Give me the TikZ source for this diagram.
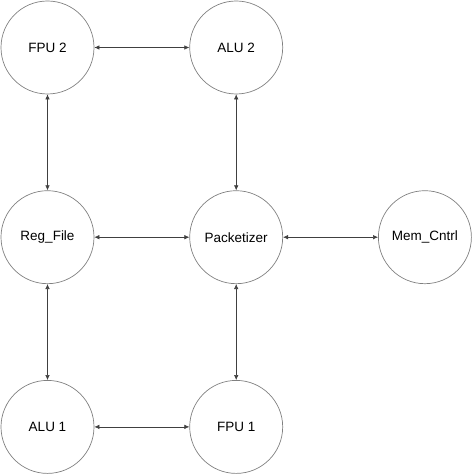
\documentclass[tikz,border=0pt]{standalone}
\usepackage{fontspec}
\setmainfont{Liberation Sans}
\usetikzlibrary{arrows.meta,positioning}
\definecolor{RingClr}{rgb}{0.5,0.5,0.5}
\definecolor{LinkClr}{rgb}{0.25,0.25,0.25}

\begin{document}
\begin{tikzpicture}[x=1pt,y=1pt,
  node distance=96pt and 95pt,
  unit/.style={circle,draw=RingClr,line width=0.7pt,minimum size=93pt,inner sep=0pt,font=\fontsize{13.5}{16}\selectfont},
  link/.style={{Latex[length=5pt,width=4.5pt]}-{Latex[length=5pt,width=4.5pt]},draw=LinkClr,line width=0.6pt}]
\useasboundingbox (0,0) rectangle (474,474);

\node[unit] (fpuB) at (47.5,426.5) {FPU 2};
\node[unit,right=of fpuB] (aluB) {ALU 2};
\node[unit,below=of fpuB] (reg) {Reg\_File};
\node[unit,right=of reg] (pkt) {Packetizer};
\node[unit,right=of pkt] (mem) {Mem\_Cntrl};
\node[unit,below=of reg] (aluA) {ALU 1};
\node[unit,right=of aluA] (fpuA) {FPU 1};

% links
\draw[link] (fpuB) -- (aluB);
\draw[link] (fpuB) -- (reg);
\draw[link] (aluB) -- (pkt);
\draw[link] (reg) -- (pkt);
\draw[link] (pkt) -- (mem);
\draw[link] (reg) -- (aluA);
\draw[link] (pkt) -- (fpuA);
\draw[link] (aluA) -- (fpuA);

\end{tikzpicture}
\end{document}
